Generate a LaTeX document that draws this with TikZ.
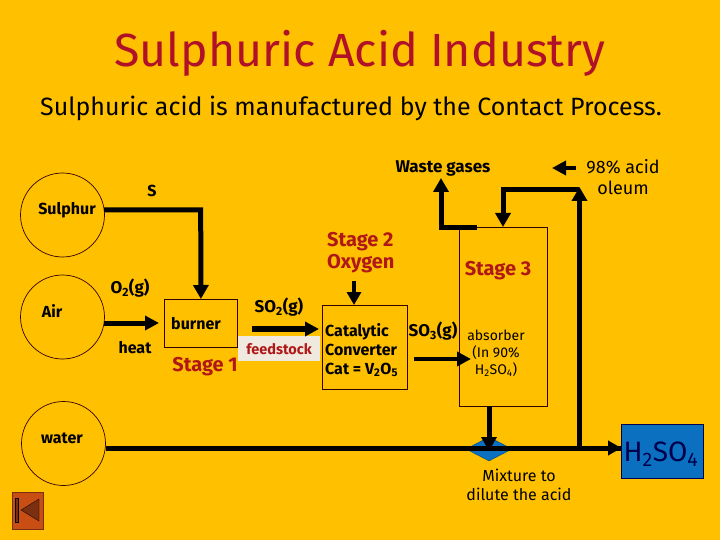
\documentclass[tikz,border=0pt]{standalone}
\usepackage{fontspec}
\setmainfont{Fira Sans}
\usetikzlibrary{arrows.meta,shapes.geometric}
\definecolor{bgc}{HTML}{FFC000}
\definecolor{redt}{HTML}{B01818}
\definecolor{titlec}{HTML}{B01028}
\definecolor{bluec}{HTML}{0B70C0}
\definecolor{feedc}{HTML}{EFE9E0}
\definecolor{btn}{HTML}{C84E14}
\definecolor{btnd}{HTML}{7A3010}
\tikzset{
 x=1pt,y=-1pt,
 lab/.style={inner sep=0pt,align=center,text=black},
 blab/.style={lab,font=\fontsize{#1}{#1}\selectfont\bfseries},
 blab/.default=15,
 stagel/.style={lab,text=redt,font=\fontsize{20}{22}\selectfont\bfseries},
 vessel/.style={draw=black!80!red,line width=0.8pt,inner sep=0pt,anchor=north west},
 tank/.style={circle,draw=black!80!red,line width=0.7pt,minimum size=84pt,inner sep=0pt},
 thick pipe/.style={line width=5pt,draw=black,-{Triangle[length=14pt,width=15pt]}},
 plain pipe/.style={line width=5pt,draw=black},
 small pipe/.style={line width=4.5pt,draw=black,-{Triangle[length=14pt,width=14pt]}},
}
\begin{document}
\begin{tikzpicture}
\fill[bgc] (0,0) rectangle (720,540);
\useasboundingbox (0,0) rectangle (720,540);
\node[lab,text=titlec,font=\fontsize{46.5}{46}\selectfont] (title) at (360,53) {Sulphuric Acid Industry};
\node[lab,font=\fontsize{25}{24}\selectfont] (sub) at (351,108) {Sulphuric acid is manufactured by the Contact Process.};

\node[tank] (sulphur) at (62.5,215) {};
\node[tank] (air) at (62.5,317) {};
\node[tank] (water) at (63.5,443.5) {};
\node[blab=16] (tsul) at (67,210) {Sulphur};
\node[blab=16] (tair) at (52,311) {Air};
\node[blab=16] (twat) at (62,438) {water};

\node[vessel,minimum width=73pt,minimum height=48pt] (burner) at (164,299) {};
\node[vessel,minimum width=85pt,minimum height=84pt] (conv) at (322,305) {};
\node[vessel,minimum width=88pt,minimum height=179pt] (abs) at (459,227) {};
\node[fill=feedc,anchor=north west,minimum width=82pt,minimum height=25pt,inner sep=0pt] (feed) at (238,336) {};
\node[lab,text=redt,font=\fontsize{14.5}{14}\selectfont\bfseries] (tfeed) at (279,349) {feedstock};

\node[diamond,fill=bluec,draw=bluec!70!black,line width=0.5pt,minimum width=46pt,minimum height=24pt,inner sep=0pt] (mix) at (489,449) {};
\node[draw=black!70!blue,line width=0.6pt,fill=bluec,anchor=north west,minimum width=82pt,minimum height=54pt,inner sep=0pt] (prod) at (621,424) {};
\node[lab,text=black!70!blue,font=\fontsize{28}{28}\selectfont] (tprod) at (661,454) {H\textsubscript{2}SO\textsubscript{4}};

\coordinate (so2a) at (252,329);
\coordinate (so2b) at (319,329);
\coordinate (o2a) at (354,281);
\coordinate (so3a) at (414,359);
\coordinate (so3b) at (471,359);
\coordinate (wa) at (477,228);
\coordinate (wb) at (441,228);
\coordinate (wc) at (441,178);
\coordinate (ta) at (579,190);
\coordinate (tb) at (503,190);
\coordinate (up) at (579.5,187);
\coordinate (ua) at (579.5,448);
\coordinate (sa) at (576,168);
\coordinate (sb) at (552,168);
\coordinate (hs) at (104,210);
\coordinate (hc) at (200.7,210);
\coordinate (ah) at (104,323);
\coordinate (ai) at (159,323);
\coordinate (wl) at (106,448);
\coordinate (wr) at (621,448);
\coordinate (absb) at (489,406);
\coordinate (mt) at (489,451);

\draw[thick pipe] (hs) -- (hc) -- (burner.north);
\draw[small pipe,line width=5pt] (ah) -- (ai);
\draw[small pipe,line width=5.5pt] (so2a) -- (so2b);
\draw[small pipe,-{Triangle[length=13pt,width=14pt]}] (o2a) -- (conv.north -| o2a);
\draw[small pipe] (so3a) -- (so3b);
\draw[thick pipe,line join=miter] (wa) -- (wb) -- (wc);
\draw[thick pipe] (ta) -- (tb) -- (abs.north -| tb);
\draw[small pipe] (sa) -- (sb);
\draw[plain pipe] (wl) -- (wr);
\draw[thick pipe] (ua) -- (up);
\draw[thick pipe] (absb) -- (mt);
\draw[-{Triangle[length=13pt,width=15pt]},draw=black,line width=0.1pt] (610,448) -- (wr);

\node[blab=16] (ts) at (152,191) {S};
\node[blab=17] (to2) at (130,288) {O\textsubscript{2}(g)};
\node[blab=16] (theat) at (135,348) {heat};
\node[blab=16] (tburn) at (196,324) {burner};
\node[stagel] (st1) at (205,367) {Stage 1};
\node[blab=17] (tso2) at (279,307) {SO\textsubscript{2}(g)};
\node[stagel,align=left,anchor=north west] (st2) at (327,232) {Stage 2\\Oxygen};
\node[lab,align=left,anchor=north west,font=\fontsize{16}{19}\selectfont\bfseries] (tconv) at (325,323) {Catalytic\\Converter\\Cat = V\textsubscript{2}O\textsubscript{5}};
\node[blab=17] (tso3) at (433,331) {SO\textsubscript{3}(g)};
\node[stagel] (st3) at (498,271) {Stage 3};
\node[lab,font=\fontsize{14}{17}\selectfont] (tabs) at (496,353) {absorber\\(In 90\%\\H\textsubscript{2}SO\textsubscript{4})};
\node[blab=17] (twaste) at (443,168) {Waste gases};
\node[lab,font=\fontsize{18}{21}\selectfont] (t98) at (623,177) {98\% acid\\oleum};
\node[lab,font=\fontsize{16}{19}\selectfont] (tmix) at (519,485) {Mixture to\\dilute the acid};

\node[draw=btnd,fill=btn,anchor=north west,minimum width=31pt,minimum height=37pt,inner sep=0pt] (back) at (12,492) {};
\node[draw=black,fill=btnd,line width=0.3pt,anchor=north west,minimum width=3pt,minimum height=24pt,inner sep=0pt] (backbar) at (15,498) {};
\filldraw[fill=btnd,draw=black,line width=0.3pt] (21,510) -- (39,499) -- (39,521) -- cycle;
\end{tikzpicture}
\end{document}
